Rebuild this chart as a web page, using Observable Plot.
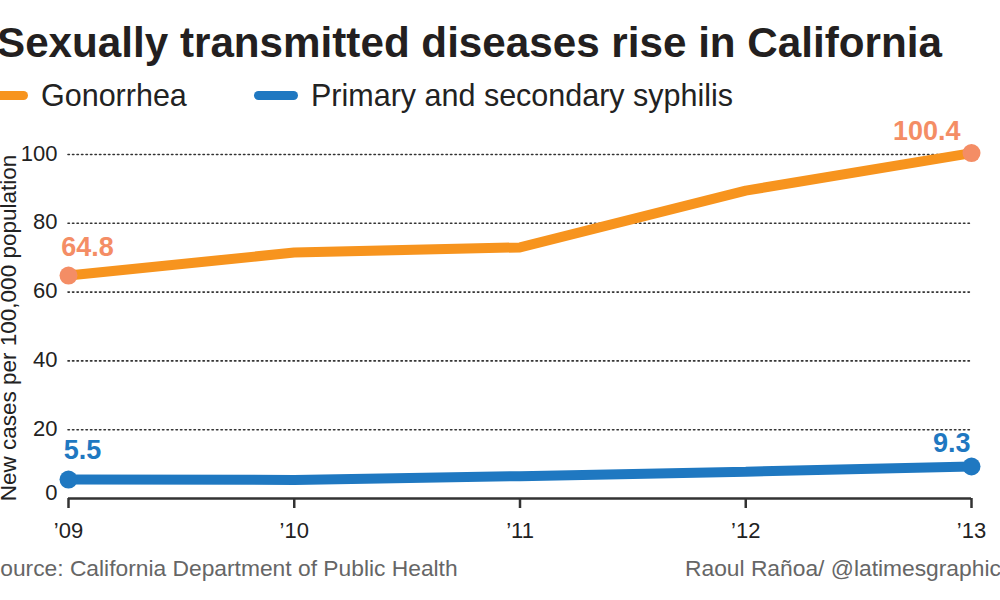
<!DOCTYPE html>
<html>
<head>
<meta charset="utf-8">
<script src="https://cdn.jsdelivr.net/npm/d3@7"></script>
<script src="https://cdn.jsdelivr.net/npm/@observablehq/plot@0.6"></script>
<style>
  html, body { margin: 0; padding: 0; background: #fff; }
  #wrap { position: relative; width: 1000px; height: 600px; overflow: hidden; font-family: "Liberation Sans", Arial, Helvetica, sans-serif; color: #222; }
  .abs { position: absolute; white-space: nowrap; }
  #title { left: -3px; top: 22px; font-size: 42.2px; font-weight: bold; color: #231f20; line-height: 1; }
  .legend { top: 80px; font-size: 30.5px; line-height: 1; display: flex; align-items: center; }
  .sw { display: inline-block; width: 44px; height: 9px; border-radius: 5px; margin-right: 13px; }
  #ylab { left: 0; top: 0; font-size: 22.5px; transform-origin: 0 0; }
  .foot { top: 557px; font-size: 22.8px; color: #666; line-height: 1; }
  #chart { position: absolute; left: 0; top: 110px; }
  #chart svg [aria-label$="tick label"] { font-size: 22px; }
</style>
</head>
<body>
<div id="wrap">
  <div id="title" class="abs">Sexually transmitted diseases rise in California</div>
  <div class="abs legend" style="left:-16px"><span class="sw" style="background:#F7941E"></span>Gonorrhea</div>
  <div class="abs legend" style="left:254px"><span class="sw" style="background:#1F78C1"></span>Primary and secondary syphilis</div>
  <div id="chart"></div>
  <div id="ylab" class="abs">New cases per 100,000 population</div>
  <div class="abs foot" style="left:-15px">Source: California Department of Public Health</div>
  <div class="abs foot" style="left:685px">Raoul Rañoa/ @latimesgraphics</div>
</div>
<script>
const years = [2009, 2010, 2011, 2012, 2013];
const gonorrhea = [64.8, 71.5, 73.0, 89.5, 100.4];
const syphilis = [5.5, 5.4, 6.5, 7.8, 9.3];
const seriesNames = ["Gonorrhea", "Primary and secondary syphilis"];
const yTicks = [0, 20, 40, 60, 80, 100];

const lineColor = {"Gonorrhea": "#F7941E", "Primary and secondary syphilis": "#1F78C1"};
const dotColor = {"Gonorrhea": "#F48D65", "Primary and secondary syphilis": "#1F78C1"};

const rows = [];
years.forEach((yr, i) => {
  rows.push({series: seriesNames[0], year: yr, value: gonorrhea[i]});
  rows.push({series: seriesNames[1], year: yr, value: syphilis[i]});
});
const first = years[0], last = years[years.length - 1];
const pick = (s, yr) => rows.filter(d => d.series === s && d.year === yr);
const fmt = d => d.value.toFixed(1);
const lab = (data, s, anchor, dx, dy) => Plot.text(data, {x: "year", y: "value", text: fmt, fill: dotColor[s], fontSize: 27, fontWeight: "bold", textAnchor: anchor, dx, dy});

const W = 1000, H = 450;
const chart = Plot.plot({
  width: W, height: H,
  marginLeft: 68, marginRight: 29, marginTop: 44, marginBottom: 62,
  style: {fontFamily: "'Liberation Sans', Arial, sans-serif", fontSize: "22px", color: "#222", background: "transparent", overflow: "visible"},
  x: {domain: [first, last], axis: null},
  y: {domain: [0, 100], axis: null},
  marks: [
    Plot.ruleY(yTicks.filter(t => t > 0), {stroke: "#333", strokeWidth: 1.6, strokeDasharray: "1.4,3.1", strokeLinecap: "round"}),
    Plot.axisY(yTicks.filter(t => t > 0), {label: null, tickSize: 0, tickPadding: 11, fontSize: 22, fill: "#222", dy: -1}),
    Plot.axisY([0], {label: null, tickSize: 0, tickPadding: 11, fontSize: 22, fill: "#222", dy: -6}),
    Plot.ruleY([0], {stroke: "#333", strokeWidth: 2.5}),
    Plot.axisX(years, {label: null, tickSize: 10, tickPadding: 14, strokeWidth: 2.5, stroke: "#333", fontSize: 22, fill: "#222", tickFormat: d => "\u2019" + String(d).slice(2)}),
    Plot.line(rows, {x: "year", y: "value", z: "series", stroke: d => lineColor[d.series], strokeWidth: 10, strokeLinejoin: "miter", strokeLinecap: "butt"}),
    Plot.dot(rows.filter(d => d.year === first || d.year === last), {x: "year", y: "value", r: 9, fill: d => dotColor[d.series], stroke: "none"}),
    lab(pick(seriesNames[0], first), seriesNames[0], "middle", 19, -28),
    lab(pick(seriesNames[1], first), seriesNames[1], "middle", 14, -29),
    lab(pick(seriesNames[0], last), seriesNames[0], "end", -11, -22),
    lab(pick(seriesNames[1], last), seriesNames[1], "end", -1, -23)
  ]
});
document.getElementById("chart").appendChild(chart);

// rotated y-axis label centred along the plot
const ylab = document.getElementById("ylab");
const w = ylab.getBoundingClientRect().width;
const cy = 328;
ylab.style.transform = `translate(-4px, ${cy + w / 2}px) rotate(-90deg)`;
</script>
</body>
</html>
